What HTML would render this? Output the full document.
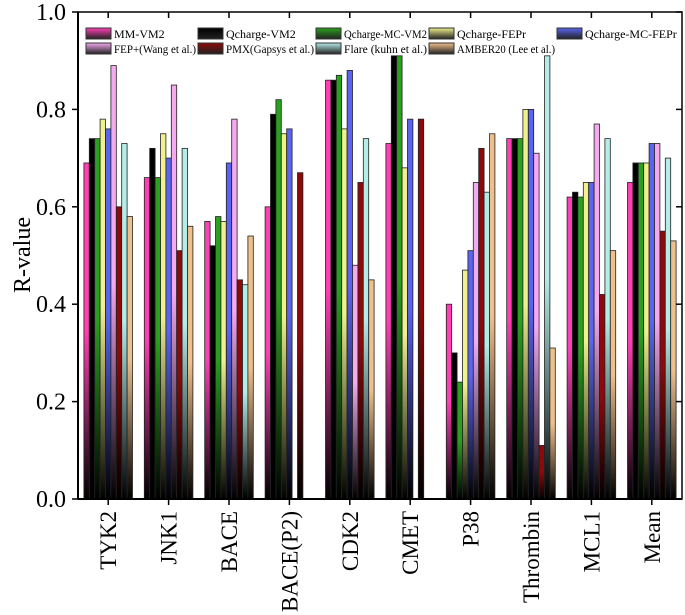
<!DOCTYPE html>
<html><head><meta charset="utf-8"><style>
body{margin:0;background:#fff}
svg{display:block;font-family:"Liberation Serif",serif}
</style></head><body>
<svg id="chart" width="685" height="615" viewBox="0 0 685 615">
<defs id="defs"></defs>
<g id="bars"></g>
<g id="axes"></g>
<g id="legend"></g>
<text x="0" y="0" transform="translate(30,255) rotate(-90)" text-anchor="middle" font-size="24">R-value</text>
</svg>
<script>
const categories = ["TYK2","JNK1","BACE","BACE(P2)","CDK2","CMET","P38","Thrombin","MCL1","Mean"];
const seriesNames = ["MM-VM2","Qcharge-VM2","Qcharge-MC-VM2","Qcharge-FEPr","Qcharge-MC-FEPr","FEP+(Wang et al.)","PMX(Gapsys et al.)","Flare (kuhn et al.)","AMBER20 (Lee et al.)"];
const mmVM2 = [0.69,0.66,0.57,0.60,0.86,0.73,0.40,0.74,0.62,0.65];
const qchargeVM2 = [0.74,0.72,0.52,0.79,0.86,0.91,0.30,0.74,0.63,0.69];
const qchargeMCVM2 = [0.74,0.66,0.58,0.82,0.87,0.91,0.24,0.74,0.62,0.69];
const qchargeFEPr = [0.78,0.75,0.57,0.75,0.76,0.68,0.47,0.80,0.65,0.69];
const qchargeMCFEPr = [0.76,0.70,0.69,0.76,0.88,0.78,0.51,0.80,0.65,0.73];
const fepWang = [0.89,0.85,0.78,0,0.48,0,0.65,0.71,0.77,0.73];
const pmxGapsys = [0.60,0.51,0.45,0.67,0.65,0.78,0.72,0.11,0.42,0.55];
const flareKuhn = [0.73,0.72,0.44,0,0.74,0,0.63,0.91,0.74,0.70];
const amber20Lee = [0.58,0.56,0.54,0,0.45,0,0.75,0.31,0.51,0.53];
const yTicks = [0.0,0.2,0.4,0.6,0.8,1.0];
const yTickLabels = ["0.0","0.2","0.4","0.6","0.8","1.0"];

const series=[mmVM2,qchargeVM2,qchargeMCVM2,qchargeFEPr,qchargeMCFEPr,fepWang,pmxGapsys,flareKuhn,amber20Lee];
const colors=["#ff3fb4","#000000","#2aa01e","#f0f08c","#5a64f0","#f4aaf0","#8c0a0a","#b4ece8","#f0c08c"];
const NS="http://www.w3.org/2000/svg";
const L=78,R=682,T=12,B=499;
const bandW=(R-L)/categories.length;
const barW=5.4;
function x(i){return L+bandW*(i+0.5);}
function y(v){return B-(v/1.0)*(B-T);}
function mk(tag,attrs,parent){const e=document.createElementNS(NS,tag);for(const k in attrs)e.setAttribute(k,attrs[k]);parent.appendChild(e);return e;}
const defs=document.getElementById('defs');
colors.forEach((c,s)=>{
  const g=mk('linearGradient',{id:'g'+s,x1:0,y1:0,x2:0,y2:1},defs);
  mk('stop',{offset:'0',"stop-color":c},g);
  mk('stop',{offset:'0.5',"stop-color":c},g);
  mk('stop',{offset:'1',"stop-color":"#000"},g);
  const h=mk('linearGradient',{id:'h'+s,x1:0,y1:0,x2:0,y2:1},defs);
  mk('stop',{offset:'0',"stop-color":c},h);
  mk('stop',{offset:'1',"stop-color":"#222"},h);
});
const bars=document.getElementById('bars');
categories.forEach((cat,i)=>{
  series.forEach((arr,s)=>{
    const v=arr[i]; if(!v) return;
    const bx=x(i)-barW*4.5+barW*s;
    const r=mk('rect',{x:bx,y:y(v),width:barW,height:B-y(v),fill:'url(#g'+s+')',stroke:'#222','stroke-width':0.8},bars);
    
    
  });
});
const axes=document.getElementById('axes');
mk('rect',{x:L,y:T,width:R-L,height:B-T,fill:'none',stroke:'#000','stroke-width':1.5},axes);
mk('line',{x1:L,y1:B,x2:R,y2:B,stroke:'#000','stroke-width':2},axes);
mk('line',{x1:L,y1:T,x2:L,y2:B,stroke:'#000','stroke-width':2},axes);
yTicks.forEach((v,k)=>{
  mk('line',{x1:L-6,y1:y(v),x2:L,y2:y(v),stroke:'#000','stroke-width':1.5},axes);
  mk('line',{x1:R,y1:y(v),x2:R-6,y2:y(v),stroke:'#000','stroke-width':1.5},axes);
  const t=mk('text',{x:L-12,y:y(v)+8,'text-anchor':'end','font-size':24},axes);
  t.textContent=yTickLabels[k];
  
  
});
categories.forEach((cat,i)=>{
  mk('line',{x1:x(i),y1:B,x2:x(i),y2:B+6,stroke:'#000','stroke-width':1.5},axes);
  mk('line',{x1:x(i),y1:T,x2:x(i),y2:T+6,stroke:'#000','stroke-width':1.5},axes);
  const t=mk('text',{transform:'translate('+(x(i)+8)+','+(B+12)+') rotate(-90)','text-anchor':'end','font-size':23},axes);
  t.textContent=cat;
  
  
});
const legend=document.getElementById('legend');
const colX=[86,198,316,429,557];
const colMax=[82,88,83,98,96];
seriesNames.forEach((n,s)=>{
  const col=s<5?s:s-5, row=s<5?0:1;
  const lx=colX[col], ly=row?43:28;
  const g=mk('g',{},legend);
  
  
  mk('rect',{x:lx,y:ly,width:25,height:11,fill:'url(#h'+s+')',stroke:'#333','stroke-width':1},g);
  const t=mk('text',{x:lx+28,y:ly+10,'font-size':12},g);
  t.textContent=n;
  const w=t.getComputedTextLength();
  if(w>colMax[col]){t.setAttribute('textLength',colMax[col]);t.setAttribute('lengthAdjust','spacingAndGlyphs');}
});
</script>
</body></html>
